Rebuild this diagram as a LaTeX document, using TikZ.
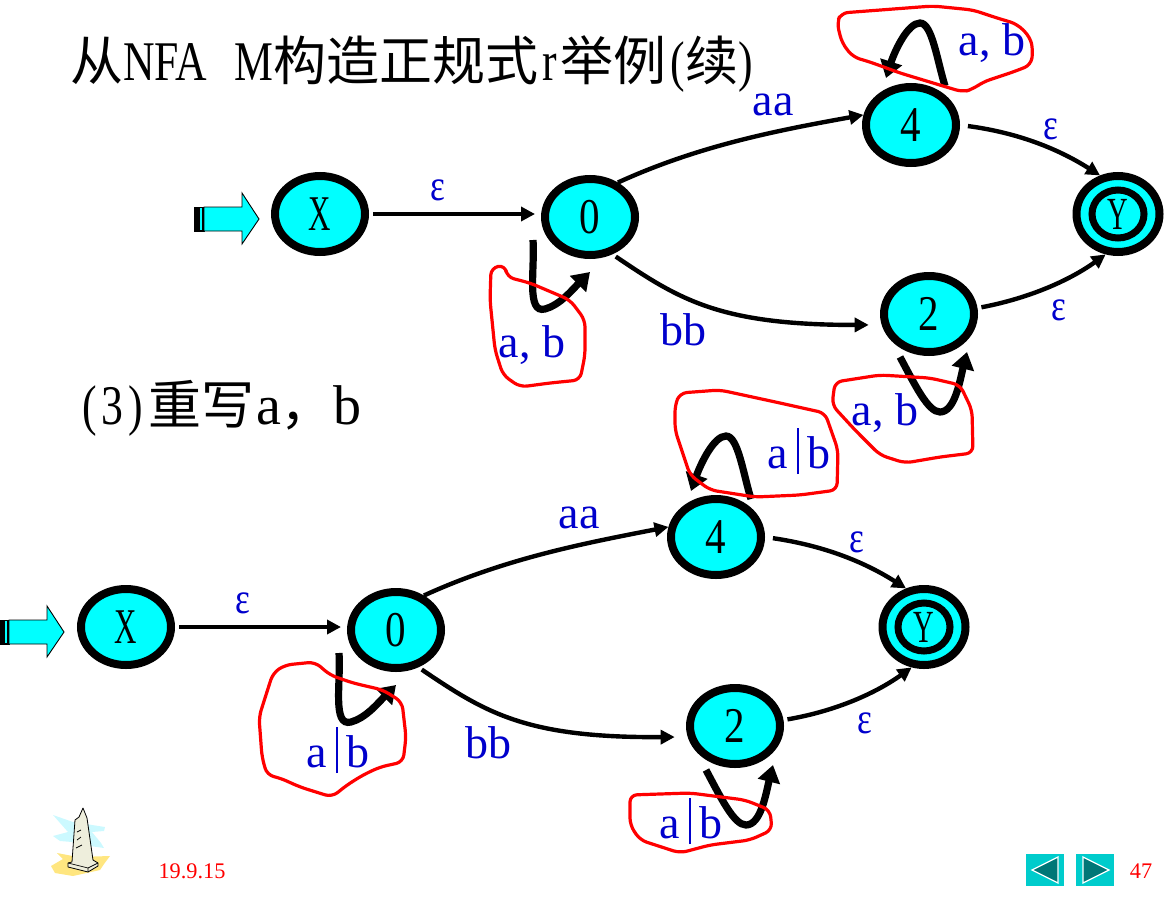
\documentclass[tikz,border=0pt]{standalone}
\usepackage{fontspec}
\usetikzlibrary{arrows.meta,shapes.geometric}
\setmainfont{Liberation Serif}
\newfontfamily\cjfont{Noto Sans CJK SC}
\newfontfamily\condfont[FakeStretch=0.62]{Liberation Serif}
\newfontfamily\digitfont[FakeStretch=0.82]{Liberation Serif}
\newfontfamily\headfont[FakeStretch=0.78]{Liberation Serif}
\newfontfamily\epsfont[FakeStretch=0.8]{Liberation Serif}
\definecolor{lblblue}{HTML}{0000CC}
\definecolor{statecyan}{HTML}{00FFFF}
\definecolor{navcyan}{HTML}{00CCCC}
\definecolor{navdark}{HTML}{007777}
\definecolor{skyblue}{HTML}{CCF9FF}
\definecolor{sand}{HTML}{FFE680}
\definecolor{stone}{HTML}{EEEEDC}
\newcommand{\headtext}[1]{\fontsize{53}{53}\selectfont #1}
\newcommand{\cjk}[1]{{\cjfont #1}}
\newcommand{\lat}[1]{{\headfont\fontsize{56}{56}\selectfont #1}}
\newcommand{\orbar}{a\kern10pt\raisebox{-6pt}{\rule{1.5pt}{46pt}}\kern9pt b}
\tikzset{
  state/.style={ellipse,draw=black,fill=statecyan,line width=8pt,minimum width=90pt,minimum height=76pt,inner sep=0pt,font=\digitfont\fontsize{50}{50}\selectfont},
  letterstate/.style={state,font=\condfont\fontsize{50}{50}\selectfont},
  finalout/.style={ellipse,draw=black,fill=statecyan,line width=8pt,minimum width=83pt,minimum height=76pt,inner sep=0pt},
  finalin/.style={ellipse,draw=black,fill=statecyan,line width=7pt,minimum width=52pt,minimum height=48pt,inner sep=0pt,font=\condfont\fontsize{46}{46}\selectfont},
  edge/.style={line width=4.4pt,-{Triangle[length=14pt,width=14pt]}},
  loopedge/.style={line width=7.2pt,-{Triangle[length=17pt,width=22pt]}},
  redline/.style={draw=red,line width=3.2pt,rounded corners=7pt,line join=round},
  lbl/.style={anchor=base,text=lblblue,font=\fontsize{46}{46}\selectfont,inner sep=0pt},
  eps/.style={anchor=base,text=lblblue,font=\epsfont\fontsize{44}{44}\selectfont,inner sep=0pt},
  foot/.style={text=red,font=\fontsize{22.3}{22.3}\selectfont,inner sep=0pt},
  entry/.style={draw=black,line width=.9pt,fill=statecyan},
  nav/.style={fill=navcyan,draw=none},
  navtri/.style={fill=navdark,draw=white,line width=1.3pt,line join=miter},
}
\begin{document}
\begin{tikzpicture}[x=1pt,y=-1pt]
\useasboundingbox (0,0) rectangle (1166,902);
% title
\node[anchor=base west,inner sep=0pt] (title) at (70,80) {\headtext{\cjk{从}\lat{NFA}\kern 27pt\lat{M}\cjk{构造正规式}\kern4pt\lat{r}\kern4pt\cjk{举例}\kern4pt\lat{(}\cjk{续}\lat{)}}};
\node[anchor=base west,inner sep=0pt] (sub) at (82,424) {\headtext{\lat{(}\kern5pt\lat{3}\kern5pt\lat{)}\kern5pt\cjk{重写}\kern2pt{\fontsize{56}{56}\selectfont a}\cjk{，}{\fontsize{56}{56}\selectfont b}}};
% upper automaton
\draw[entry,fill=black] (194,207) rectangle (204,231);
\fill[statecyan] (200,208) rectangle (202,230);
\draw[entry] (204,207) -- (242,207) -- (242,193) -- (259,219) -- (242,244) -- (242,231) -- (204,231) -- cycle;
\node[letterstate] (uX) at (320,214) {X};
\node[state] (u0) at (590,217) {0};
\node[state] (u4) at (911,125) {4};
\node[state] (u2) at (929,314) {2};
\node[finalout] (uYo) at (1118,214) {};
\node[finalin] (uY) at (1118,214) {Y};
\draw[edge,shorten <=4pt,shorten >=6pt] (uX.east) -- (u0.west |- uX.east);
\draw[edge] (u0.51) .. controls (700,145) and (780,130) .. (u4.168);
\draw[edge,shorten <=8pt] (u4.0) .. controls (1020,133) and (1060,150) .. (uYo.115);
\draw[edge,shorten <=4pt,shorten >=13pt] (u0.-59) .. controls (680,300) and (720,325) .. (u2.193);
\draw[edge,shorten <=4pt] (u2.7) .. controls (1030,298) and (1070,280) .. (uYo.253);
\coordinate (u4a) at (945,86); \coordinate (u4b) at (886,78);
\draw[loopedge] (u4a) .. controls (937,60) and (932,23) .. (920,23) .. controls (908,23) and (895,50) .. (u4b);
\coordinate (u0a) at (533,240); \coordinate (u0b) at (590,272);
\draw[loopedge] (u0a) .. controls (535,270) and (526,314) .. (545,309) .. controls (560,305) and (572,290) .. (u0b);
\coordinate (u2a) at (900,357); \coordinate (u2b) at (967,352);
\draw[loopedge] (u2a) .. controls (915,385) and (928,412) .. (940,412) .. controls (955,412) and (960,380) .. (u2b);
\draw[redline] (841,13) -- (933,6) -- (973,10) -- (997,18) -- (1017,24) -- (1030,37) -- (1033,50) -- (1031,65) -- (1013,72) -- (983,82) -- (973,89) -- (963,92) -- (943,86) -- (900,73) -- (870,62) -- (853,57) -- (842,43) -- (837,23) -- cycle;
\draw[redline] (491,268) -- (505,265) -- (507,277) -- (530,283) -- (570,300) -- (585,320) -- (585,355) -- (580,380) -- (550,383) -- (520,387) -- (503,375) -- (495,350) -- (490,300) -- cycle;
\draw[redline] (835,382) -- (880,375) -- (930,378) -- (960,385) -- (972,410) -- (973,453) -- (940,457) -- (905,463) -- (880,455) -- (855,430) -- (832,405) -- cycle;
\node[eps] (ul1) at (438,200) {ε};
\node[lbl] (ul2) at (773,115) {aa};
\node[eps] (ul3) at (1051,139) {ε};
\node[eps] (ul4) at (1059,320) {ε};
\node[lbl] (ul5) at (683,345) {bb};
\node[lbl] (ul6) at (532,357) {a, b};
\node[lbl] (ul7) at (885,425) {a, b};
\node[lbl] (ul8) at (992,55) {a, b};
% lower automaton
\draw[entry,fill=black] (-1,620) rectangle (9,644);
\fill[statecyan] (5,621) rectangle (7,643);
\draw[entry] (9,620) -- (47,620) -- (47,606) -- (64,632) -- (47,657) -- (47,644) -- (9,644) -- cycle;
\node[letterstate] (lX) at (126,627) {X};
\node[state] (l0) at (396,630) {0};
\node[state] (l4) at (716,537) {4};
\node[state] (l2) at (735,726) {2};
\node[finalout] (lYo) at (924,627) {};
\node[finalin] (lY) at (924,627) {Y};
\draw[edge,shorten <=4pt,shorten >=6pt] (lX.east) -- (l0.west |- lX.east);
\draw[edge] (l0.51) .. controls (506,558) and (586,543) .. (l4.168);
\draw[edge,shorten <=8pt] (l4.0) .. controls (826,546) and (866,563) .. (lYo.115);
\draw[edge,shorten <=4pt,shorten >=13pt] (l0.-59) .. controls (486,713) and (526,738) .. (l2.193);
\draw[edge,shorten <=4pt] (l2.7) .. controls (836,711) and (876,693) .. (lYo.253);
\coordinate (l4a) at (751,499); \coordinate (l4b) at (691,491);
\draw[loopedge] (l4a) .. controls (743,473) and (738,436) .. (726,436) .. controls (714,436) and (701,463) .. (l4b);
\coordinate (l0a) at (339,653); \coordinate (l0b) at (396,685);
\draw[loopedge] (l0a) .. controls (341,683) and (332,727) .. (351,722) .. controls (366,718) and (378,703) .. (l0b);
\coordinate (l2a) at (706,770); \coordinate (l2b) at (773,765);
\draw[loopedge] (l2a) .. controls (721,798) and (734,825) .. (746,825) .. controls (761,825) and (766,793) .. (l2b);
\draw[redline] (680,393) -- (720,390) -- (780,403) -- (825,413) -- (838,450) -- (837,490) -- (800,495) -- (755,497) -- (710,490) -- (690,475) -- (675,430) -- (675,405) -- cycle;
\draw[redline] (285,665) -- (315,662) -- (330,675) -- (353,683) -- (383,690) -- (402,702) -- (406,737) -- (403,762) -- (380,767) -- (363,775) -- (347,785) -- (332,797) -- (300,787) -- (280,778) -- (267,775) -- (262,757) -- (259,717) -- (265,698) -- (273,673) -- cycle;
\draw[redline] (630,795) -- (690,793) -- (745,800) -- (770,810) -- (772,830) -- (750,840) -- (710,845) -- (680,853) -- (640,840) -- (630,825) -- cycle;
\node[eps] (ll1) at (243,613) {ε};
\node[lbl] (ll2) at (579,528) {aa};
\node[eps] (ll3) at (857,552) {ε};
\node[eps] (ll4) at (865,733) {ε};
\node[lbl] (ll5) at (488,758) {bb};
\node[lbl] (ll6) at (338,767) {\orbar};
\node[lbl] (ll7) at (691,838) {\orbar};
\node[lbl] (ll8) at (799,468) {\orbar};
% landmark icon
\fill[skyblue] (53,815) -- (73,822) -- (105,827) -- (104,831) -- (92,832) -- (101,843) -- (104,848) -- (90,846) -- (72,842) -- (60,841) -- (53,836) -- (68,832) -- cycle;
\fill[sand] (57,853) -- (78,857) -- (110,856) -- (104,864) -- (100,870) -- (73,876) -- (55,873) -- (51,866) -- (63,859) -- cycle;
\draw[fill=stone,line width=.8pt,line join=round] (68,863) -- (72,862) -- (75,820) -- (79,817) -- (83,808) -- (87,818) -- (93,860) -- (98,863) -- (98,866) -- (88,872) -- (68,867) -- cycle;
\draw[line width=.7pt] (68,863) -- (88,868) -- (98,863) (88,868) -- (88,872);
\draw[line width=.7pt] (77,832) -- (81,830) (77,840) -- (81,837) (76,848) -- (82,845);
% footer
\node[foot] (date) at (192,871) {19.9.15};
\node[foot] (page) at (1141,871) {47};
\fill[nav] (1026,854) rectangle (1064,886);
\draw[navtri] (1032,870) -- (1058,857) -- (1058,883) -- cycle;
\fill[nav] (1076,854) rectangle (1114,886);
\draw[navtri] (1109,870) -- (1083,857) -- (1083,883) -- cycle;
\end{tikzpicture}
\end{document}
